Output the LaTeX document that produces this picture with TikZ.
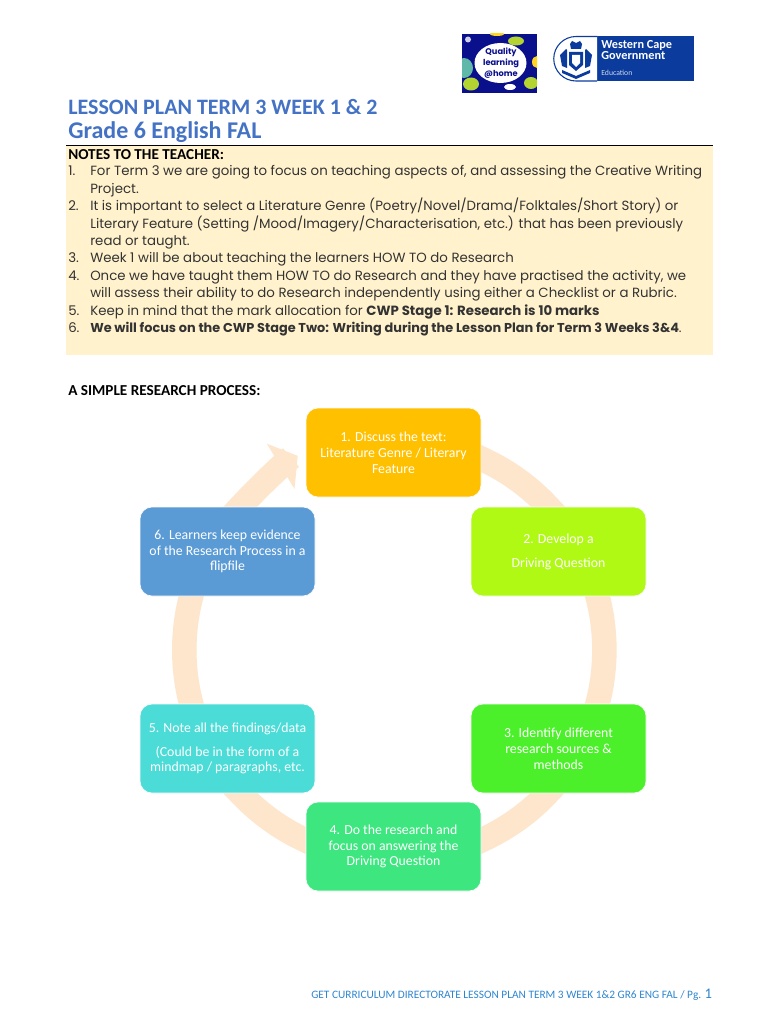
\documentclass[tikz,border=0pt]{standalone}
\usepackage{fontspec}
\setmainfont{Poppins}
\newfontfamily\diagfont{Carlito}
\usetikzlibrary{arrows.meta}
\pgfdeclarelayer{ringlayer}
\pgfsetlayers{ringlayer,main}
\definecolor{titleblue}{HTML}{4472C4}
\definecolor{notecream}{HTML}{FFF2CC}
\definecolor{ringpeach}{HTML}{FEE6CD}
\definecolor{wcgblue}{HTML}{0B3C9D}
\definecolor{logonavy}{HTML}{0A0F8C}
\definecolor{blobgreen}{HTML}{B4D432}
\definecolor{blobteal}{HTML}{5FB8A8}
\definecolor{blobyellow}{HTML}{FFD520}
\definecolor{footblue}{HTML}{2E86D0}
\tikzset{
  titleline/.style={anchor=west,inner sep=0,text=titleblue,font=\diagfont\bfseries\fontsize{16.5}{18}\selectfont},
  headline/.style={anchor=west,inner sep=0,text=black,font=\diagfont\bfseries\fontsize{11.4}{12}\selectfont},
  noteline/.style={anchor=west,inner sep=0,text height=8pt,text depth=2.5pt,text=black!80,font=\fontsize{10}{12}\selectfont},
  stepbox/.style={draw=white!70!black!5,line width=.5pt,rounded corners=9pt,minimum width=131.25pt,minimum height=66.75pt,inner sep=0,align=center,text=white,font=\diagfont\fontsize{10.35}{11.85}\selectfont},
  ringline/.style={draw=ringpeach,line width=18.4pt,line cap=rect,looseness=.86},
  logotext/.style={inner sep=0,align=left,anchor=west},
}
\begin{document}
\begin{tikzpicture}[x=.75pt,y=.75pt]
\useasboundingbox (0,0) rectangle (768,-1024);

% logos
\fill[logonavy] (462,-34) rectangle (537,-93);
\begin{scope}
\clip (462,-34) rectangle (537,-93);
\fill[blobteal] (464,-68) ellipse (9 and 10);
\fill[blobgreen] (471,-84) ellipse (8 and 6.5);
\fill[blobgreen] (516,-41) ellipse (8 and 4.5);
\fill[blobyellow] (537,-62) ellipse (5 and 6);
\fill[blobgreen] (531,-83) ellipse (7 and 6);
\fill[blobyellow] (497,-34) ellipse (7 and 2);
\end{scope}
\fill[white] (500.5,-63) ellipse (26 and 20);
\fill[white] (510,-87) ellipse (6 and 3);
\fill[white!80!logonavy] (468,-39.5) circle (3);
\node[logotext,text=logonavy,align=center,anchor=center,font=\bfseries\fontsize{6.2}{8}\selectfont] (qualitylabel) at (501,-63) {Quality\\learning\\@home};

\fill[wcgblue] (597,-36.5) rectangle (694,-81);
\draw[wcgblue,fill=white,line width=.8pt] (597,-36.5) -- (576,-36.5) arc[start angle=90,end angle=270,radius=22.25] -- (597,-81);
\fill[wcgblue] (570,-44) -- (572,-41) -- (576,-43) -- (580,-41) -- (582,-44) -- (581,-49) -- (571,-49) -- cycle;
\fill[wcgblue] (569,-52) -- (583,-52) -- (583,-65) -- (576,-71) -- (569,-65) -- cycle;
\fill[white] (572,-55) -- (580,-55) -- (580,-63) -- (576,-67) -- (572,-63) -- cycle;
\fill[wcgblue] (566,-49) -- (560,-55) -- (562,-66) -- (567,-68) -- (567,-50) -- cycle;
\fill[wcgblue] (586,-49) -- (592,-55) -- (590,-66) -- (585,-68) -- (585,-50) -- cycle;
\fill[wcgblue] (562,-70) -- (576,-76) -- (590,-70) -- (590,-73) -- (576,-79) -- (562,-73) -- cycle;
\node[logotext,text=white,font=\diagfont\bfseries\fontsize{9.2}{8.8}\selectfont] (wcglabel) at (601,-50) {Western Cape\\Government};
\node[logotext,text=white!80!wcgblue,font=\diagfont\fontsize{5.8}{7}\selectfont] (edulabel) at (601,-73) {Education};

% heading
\node[titleline] (title1) at (68,-107) {LESSON PLAN TERM 3 WEEK 1 \& 2};
\node[titleline,font=\diagfont\bfseries\fontsize{18}{20}\selectfont] (title2) at (68,-132) {Grade 6 English FAL};

% notes
\fill[notecream] (66,-145) rectangle (713,-355);
\draw[black,line width=.6pt] (66,-145) -- (713,-145);
\node[headline] (notes) at (68,-155) {NOTES TO THE TEACHER:};
\node[noteline] (num1) at (68,-172) {1.};
\node[noteline] (line1) at (90,-172) {For Term 3 we are going to focus on teaching aspects of, and assessing the Creative Writing};
\node[noteline] (line1b) at (90,-190) {Project.};
\node[noteline] (num2) at (68,-207) {2.};
\node[noteline] (line2) at (90,-207) {It is important to select a Literature Genre (Poetry/Novel/Drama/Folktales/Short Story) or};
\node[noteline] (line2b) at (90,-225) {Literary Feature (Setting /Mood/Imagery/Characterisation, etc.) that has been previously};
\node[noteline] (line2c) at (90,-242) {read or taught.};
\node[noteline] (num3) at (68,-259) {3.};
\node[noteline] (line3) at (90,-259) {Week 1 will be about teaching the learners HOW TO do Research};
\node[noteline] (num4) at (68,-277) {4.};
\node[noteline] (line4) at (90,-277) {Once we have taught them HOW TO do Research and they have practised the activity, we};
\node[noteline] (line4b) at (90,-294) {will assess their ability to do Research independently using either a Checklist or a Rubric.};
\node[noteline] (num5) at (68,-312) {5.};
\node[noteline] (line5) at (90,-312) {Keep in mind that the mark allocation for \textbf{CWP Stage 1: Research is 10 marks}};
\node[noteline] (num6) at (68,-329) {6.};
\node[noteline,font=\fontsize{9.65}{12}\selectfont] (line6) at (90,-329) {\textbf{We will focus on the CWP Stage Two: Writing during the Lesson Plan for Term 3 Weeks 3\&4}.};
\node[headline] (process) at (68,-391) {A SIMPLE RESEARCH PROCESS:};

% boxes
\node[stepbox,fill={rgb,255:red,255;green,192;blue,0}] (n1) at (393.5,-452.5) {1. Discuss the text:\\Literature Genre / Literary\\Feature};
\node[stepbox,fill={rgb,255:red,176;green,249;blue,21}] (n2) at (558.5,-551.5) {2. Develop a\\[6pt]Driving Question};
\node[stepbox,fill={rgb,255:red,75;green,240;blue,42}] (n3) at (558.5,-748.5) {3. Identify different\\research sources \&\\methods};
\node[stepbox,fill={rgb,255:red,61;green,230;blue,127}] (n4) at (393.5,-846.5) {4. Do the research and\\focus on answering the\\Driving Question};
\node[stepbox,fill={rgb,255:red,75;green,220;blue,215}] (n5) at (227.5,-748.5) {5. Note all the findings/data\\[6pt](Could be in the form of a\\mindmap / paragraphs, etc.};
\node[stepbox,fill={rgb,255:red,91;green,155;blue,213}] (n6) at (227.5,-551.5) {6. Learners keep evidence\\of the Research Process in a\\flipfile};

% ring, under the boxes
\begin{pgfonlayer}{ringlayer}
\fill[white] (0,0) rectangle (768,-1024);
\path[ringline] (n1.-4) to[out=-24.6,in=132.7] (n2.103.6);
\path[ringline] (n2.-49.4) to[out=-75.2,in=75.2] (n3.49.4);
\path[ringline] (n3.-104.7) to[out=-132.9,in=24.6] (n4.4);
\path[ringline] (n4.176) to[out=155.4,in=-46.9] (n5.-74);
\path[ringline] (n5.129.7) to[out=104.8,in=-104.8] (n6.-129.7);
\path[ringline,shorten >=7pt,-{Triangle[length=15pt,width=39pt]}] (n6.74.9) to[out=47.2,in=211.5] (n1.179);
\end{pgfonlayer}

\node[anchor=west,inner sep=0,text=footblue,font=\diagfont\fontsize{8.5}{9}\selectfont] (foot) at (311,-994.5) {GET CURRICULUM DIRECTORATE LESSON PLAN TERM 3 WEEK 1\&2 GR6 ENG FAL / Pg. {\fontsize{11}{12}\selectfont 1}};
\end{tikzpicture}
\end{document}
